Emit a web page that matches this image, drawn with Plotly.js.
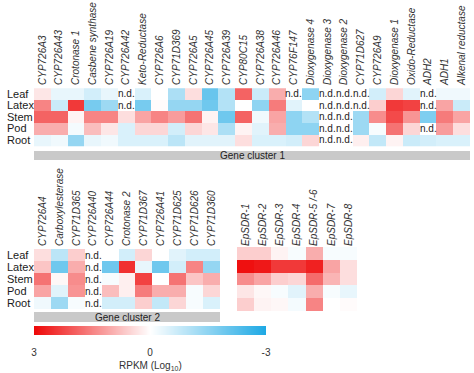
<!DOCTYPE html>
<html>
<head>
<meta charset="utf-8">
<script src="https://cdn.plot.ly/plotly-3.0.1.min.js"></script>
<style>html,body{margin:0;padding:0;background:#fff;}#chart{width:474px;height:373px;}</style>
</head>
<body>
<div id="chart"></div>
<script>
// ---------- data ----------
var tissues = ["Leaf", "Latex", "Stem", "Pod", "Root"];

var cluster1Genes = ["CYP726A3","CYP726A43","Crotonase 1","Casbene synthase","CYP726A19","CYP726A42",
  "Keto-Reductase","CYP726A6","CYP71D369","CYP726A5","CYP726A45","CYP726A39","CYP80C15","CYP726A38",
  "CYP726A46","CYP76F147","Dioxygenase 4","Dioxygenase 3","Dioxygenase 2","CYP71D627","CYP726A9",
  "Dioxygenase 1","Oxido-Reductase","ADH2","ADH1","Alkenal reductase"];
// rows: Leaf, Latex, Stem, Pod, Root ; null = n.d.
var cluster1Values = [
  [0.3,-0.3,-0.3,-0.6,-0.3,null,-0.5,0,-1.1,0.4,-2.0,-1.0,1.9,-0.7,1.0,null,-1.5,null,null,null,-0.6,0.5,-0.4,null,-0.2,-0.2],
  [1.5,-0.7,2.4,-1.8,-1.3,null,-1.8,0.05,-1.4,-1.4,-1.9,-1.0,0,-1.5,1.6,-0.4,0,null,null,null,0.6,2.4,2.3,null,1.1,-0.7],
  [1.9,1.9,0.15,1.5,1.5,0.4,1.1,1.5,1.2,1.7,0.15,-1.9,1.9,-0.2,1.1,-1.5,-1.0,null,null,-1.3,1.4,2.2,1.3,-1.7,1.6,1.1],
  [1.0,1.0,-0.15,0.8,0.3,-0.5,0.5,0.5,-0.6,0.5,0.3,-1.1,0.15,-0.4,1.0,-1.5,-1.5,null,null,-1.3,-0.1,1.7,0.5,null,1.2,0.4],
  [-0.3,-0.2,-1.4,-0.3,-0.2,-0.5,-0.5,-0.5,-0.9,-0.4,-0.4,-0.4,0.4,-0.5,-0.5,-0.6,0.5,null,null,0.2,-0.8,0.15,-0.7,-0.6,-0.5,-0.5]
];

var cluster2Genes = ["CYP726A4","Carboxylesterase","CYP71D365","CYP726A40","CYP726A44","Crotonase 2",
  "CYP71D367","CYP726A41","CYP71D625","CYP71D626","CYP71D360"];
var cluster2Values = [
  [0.4,-0.9,0.6,null,0,-0.6,0.5,0,-0.4,-0.6,-0.6],
  [0.7,-1.9,1.0,null,-1.9,2.5,-0.3,-1.9,-0.6,1.5,-1.4],
  [1.7,0.1,1.4,null,-0.1,0.2,2.3,0,1.7,0.7,1.0],
  [1.1,-0.4,1.3,null,0.8,0.2,1.6,1.0,1.0,-0.1,0.5],
  [-0.2,-1.3,-0.1,null,-0.6,-0.6,0.6,-0.8,0.5,-0.1,-0.5]
];

var sdrGenes = ["EpSDR-1","EpSDR-2","EpSDR-3","EpSDR-4","EpSDR-5 /-6","EpSDR-7","EpSDR-8"];
var sdrValues = [
  [0.6,0.6,0.15,-0.1,1.0,-0.1,-0.1],
  [2.9,2.8,2.4,2.4,2.7,1.1,0.4],
  [1.4,1.1,0.6,0.5,1.8,0.9,0.4],
  [0.3,0.1,-0.1,-0.4,1.0,-0.1,-0.3],
  [0.6,0.15,0.1,-0.15,1.5,0,0.05]
];

var colorbarTicks = [3, 0, -3];
var clusterLabels = ["Gene cluster 1", "Gene cluster 2"];

// ---------- styling ----------
var W = 474, H = 373;
var FONT = "Liberation Sans, Arial, sans-serif";
var cscale = [[0, "rgb(28,168,228)"], [0.5, "rgb(255,255,255)"], [1, "rgb(238,8,8)"]];
function px(x) { return x / W; }
function py(y) { return 1 - y / H; }

function hm(genes, vals, xa, ya) {
  return {
    type: "heatmap", x: genes, y: tissues, z: vals,
    xaxis: xa, yaxis: ya, zmin: -3, zmax: 3, colorscale: cscale,
    showscale: false, hoverinfo: "skip"
  };
}

var data = [
  hm(cluster1Genes, cluster1Values, "x", "y"),
  hm(cluster2Genes, cluster2Values, "x2", "y2"),
  hm(sdrGenes, sdrValues, "x3", "y3"),
  {
    type: "heatmap", x: colorbarTicks, y: [0], z: [colorbarTicks],
    xaxis: "x4", yaxis: "y4", zmin: -3, zmax: 3, colorscale: cscale,
    zsmooth: "best", showscale: false, hoverinfo: "skip"
  }
];

function colAxis(dom) {
  return {
    domain: dom, type: "category", side: "top", tickangle: -90,
    ticks: "", showgrid: false, zeroline: false, showline: false,
    tickfont: { family: FONT, size: 10, color: "#333", style: "italic" },
    fixedrange: true
  };
}
function rowAxis(dom, anchor) {
  return {
    domain: dom, type: "category", autorange: "reversed", anchor: anchor,
    showticklabels: false, ticks: "", showgrid: false, zeroline: false, showline: false,
    fixedrange: true
  };
}

var layout = {
  width: W, height: H,
  margin: { l: 0, r: 0, t: 0, b: 0 },
  paper_bgcolor: "#fff", plot_bgcolor: "#fff",
  showlegend: false,
  xaxis: Object.assign(colAxis([px(34), px(470)]), { anchor: "y" }),
  yaxis: rowAxis([py(148), py(86)], "x"),
  xaxis2: Object.assign(colAxis([px(34), px(220)]), { anchor: "y2" }),
  yaxis2: rowAxis([py(311), py(247)], "x2"),
  xaxis3: Object.assign(colAxis([px(237), px(357)]), { anchor: "y3" }),
  yaxis3: rowAxis([py(311), py(247)], "x3"),
  xaxis4: {
    domain: [px(34), px(266)], anchor: "y4", range: [3, -3],
    tickvals: colorbarTicks, ticktext: colorbarTicks.map(String),
    ticks: "", showgrid: false, zeroline: false, showline: false,
    ticklabelstandoff: 10,
    tickfont: { family: FONT, size: 10, color: "#333" }, fixedrange: true
  },
  yaxis4: {
    domain: [py(335), py(326)], anchor: "x4", range: [-0.5, 0.5],
    showticklabels: false, ticks: "", showgrid: false, zeroline: false, fixedrange: true
  },
  shapes: [
    { type: "rect", xref: "x domain", yref: "paper", x0: 0, x1: 1, y0: py(160), y1: py(151),
      fillcolor: "#c9c9c9", line: { width: 0 }, layer: "below" },
    { type: "rect", xref: "x2 domain", yref: "paper", x0: 0, x1: 1, y0: py(322), y1: py(312),
      fillcolor: "#c9c9c9", line: { width: 0 }, layer: "below" }
  ],
  annotations: []
};

// cluster labels
layout.annotations.push({
  text: clusterLabels[0], xref: "x domain", yref: "paper", x: 0.5, y: py(155.5),
  showarrow: false, font: { family: FONT, size: 10, color: "#222" }, xanchor: "center", yanchor: "middle"
});
layout.annotations.push({
  text: clusterLabels[1], xref: "x2 domain", yref: "paper", x: 0.5, y: py(317),
  showarrow: false, font: { family: FONT, size: 10, color: "#222" }, xanchor: "center", yanchor: "middle"
});
// colorbar title
layout.annotations.push({
  text: "RPKM (Log<sub>10</sub>)", xref: "x4 domain", yref: "paper", x: 0.5, y: py(366),
  showarrow: false, font: { family: FONT, size: 10, color: "#333" }, xanchor: "center", yanchor: "middle"
});

// row labels
[["y"], ["y2"]].forEach(function (a) {
  tissues.forEach(function (t) {
    layout.annotations.push({
      text: t, xref: "paper", yref: a[0], x: px(5), y: t, xanchor: "left", yanchor: "middle",
      showarrow: false, font: { family: FONT, size: 11, color: "#1a1a1a" }
    });
  });
});

// n.d. labels
function addND(genes, vals, xa, ya) {
  vals.forEach(function (row, i) {
    row.forEach(function (v, j) {
      if (v === null) {
        layout.annotations.push({
          text: "n.d.", xref: xa, yref: ya, x: genes[j], y: tissues[i],
          showarrow: false, xanchor: "center", yanchor: "middle",
          font: { family: FONT, size: 10, color: "#222" }
        });
      }
    });
  });
}
addND(cluster1Genes, cluster1Values, "x", "y");
addND(cluster2Genes, cluster2Values, "x2", "y2");
addND(sdrGenes, sdrValues, "x3", "y3");

Plotly.newPlot("chart", data, layout, { displayModeBar: false, staticPlot: true });
</script>
</body>
</html>
